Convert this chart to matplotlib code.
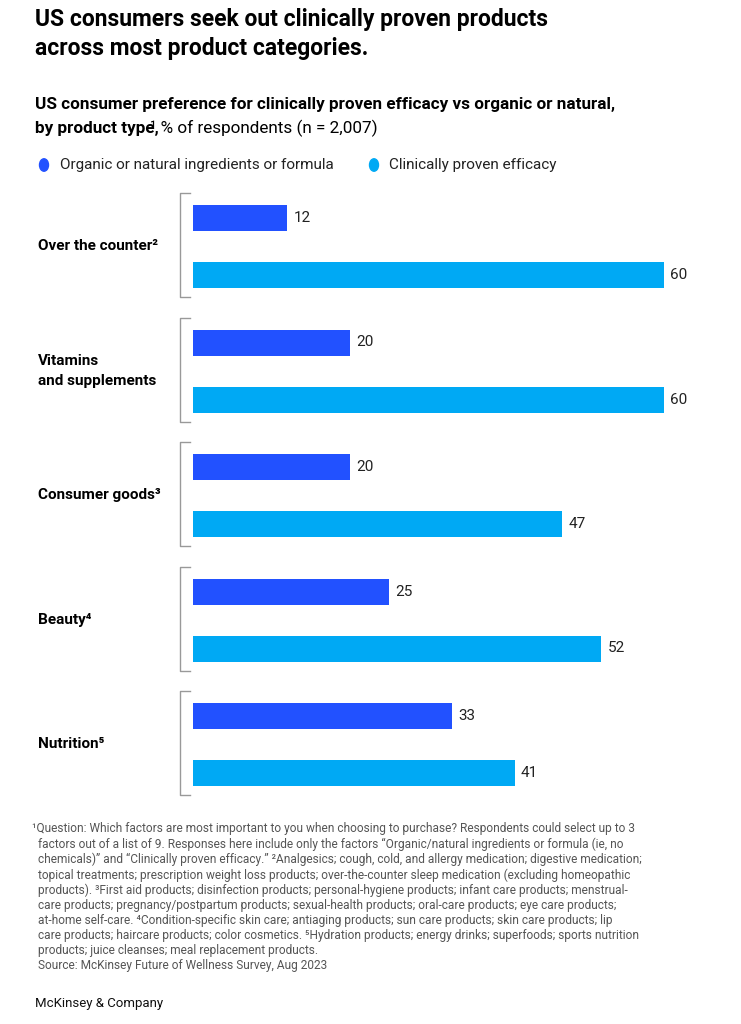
import matplotlib.pyplot as plt
from matplotlib.transforms import blended_transform_factory

plt.rcParams['font.family'] = ['Roboto', 'DejaVu Sans']

categories = ["Over the counter²", "Vitamins\nand supplements", "Consumer goods³", "Beauty⁴", "Nutrition⁵"]
organic = [12, 20, 20, 25, 33]
clinical = [60, 60, 47, 52, 41]
series_names = ["Organic or natural ingredients or formula", "Clinically proven efficacy"]
c_dark = "#2251FF"
c_light = "#00A9F4"

footnote = [
    "¹Question: Which factors are most important to you when choosing to purchase? Respondents could select up to 3",
    "  factors out of a list of 9. Responses here include only the factors “Organic/natural ingredients or formula (ie, no",
    "  chemicals)” and “Clinically proven efficacy.” ²Analgesics; cough, cold, and allergy medication; digestive medication;",
    "  topical treatments; prescription weight loss products; over-the-counter sleep medication (excluding homeopathic",
    "  products). ³First aid products; disinfection products; personal-hygiene products; infant care products; menstrual-",
    "  care products; pregnancy/postpartum products; sexual-health products; oral-care products; eye care products;",
    "  at-home self-care. ⁴Condition-specific skin care; antiaging products; sun care products; skin care products; lip",
    "  care products; haircare products; color cosmetics. ⁵Hydration products; energy drinks; superfoods; sports nutrition",
    "  products; juice cleanses; meal replacement products.",
    "  Source: McKinsey Future of Wellness Survey, Aug 2023",
]

W, H = 741, 1024
fig = plt.figure(figsize=(W / 100, H / 100), dpi=100)

# axes in pixel layout: x 193..700, y 190..800 (from top)
ax = fig.add_axes([193 / W, 1 - 800 / H, (700 - 193) / W, (800 - 190) / H])
ax.set_xlim(0, 64.6)
ax.set_ylim(610, 0)  # pixel units from top of axes
ax.axis("off")

gap = 124.5
bh = 26
for i, cat in enumerate(categories):
    y1 = 28 + i * gap
    y2 = y1 + 57
    ax.barh(y1, organic[i], height=bh, color=c_dark)
    ax.barh(y2, clinical[i], height=bh, color=c_light)
    ax.text(organic[i] + 0.8, y1, str(organic[i]), va="center", fontsize=11, color="#222")
    ax.text(clinical[i] + 0.8, y2, str(clinical[i]), va="center", fontsize=11, color="#222")
    tr = blended_transform_factory(fig.transFigure, ax.transData)
    top, bot = y1 - 25, y2 + 22
    xl, xr = 180 / W, 190 / W
    ax.plot([xr, xl, xl, xr], [top, top, bot, bot], color="#999", lw=1, transform=tr, clip_on=False)
    ax.text(38 / W, (y1 + y2) / 2, cat, transform=tr, fontsize=11, fontweight="bold",
            va="center", ha="left", linespacing=1.5)

def ftxt(x, y, s, **kw):
    fig.text(x / W, 1 - y / H, s, **kw)

ftxt(35, 8, "US consumers seek out clinically proven products\nacross most product categories.",
     fontsize=16.5, fontweight="bold", va="top", linespacing=1.35)
ftxt(35, 104, "US consumer preference for clinically proven efficacy vs organic or natural,",
     fontsize=12.3, fontweight="bold", va="center")
ftxt(35, 128, "by product type,", fontsize=12.3, fontweight="bold", va="center")
ftxt(150, 128, "¹ % of respondents (n = 2,007)", fontsize=12.3, va="center")

fig.patches.append(plt.Circle((44 / W, 1 - 165 / H), 4.5 / W, transform=fig.transFigure, color=c_dark))
ftxt(60, 165, series_names[0], fontsize=11, va="center", color="#222")
fig.patches.append(plt.Circle((374 / W, 1 - 165 / H), 4.5 / W, transform=fig.transFigure, color=c_light))
ftxt(389, 165, series_names[1], fontsize=11, va="center", color="#222")

ftxt(32, 822, "\n".join(footnote), fontsize=8.6, va="top", color="#555", linespacing=1.2)
ftxt(35, 1003, "McKinsey & Company", fontsize=9.5, va="center", color="#111")

fig.savefig("out.png", dpi=100, facecolor="white")
